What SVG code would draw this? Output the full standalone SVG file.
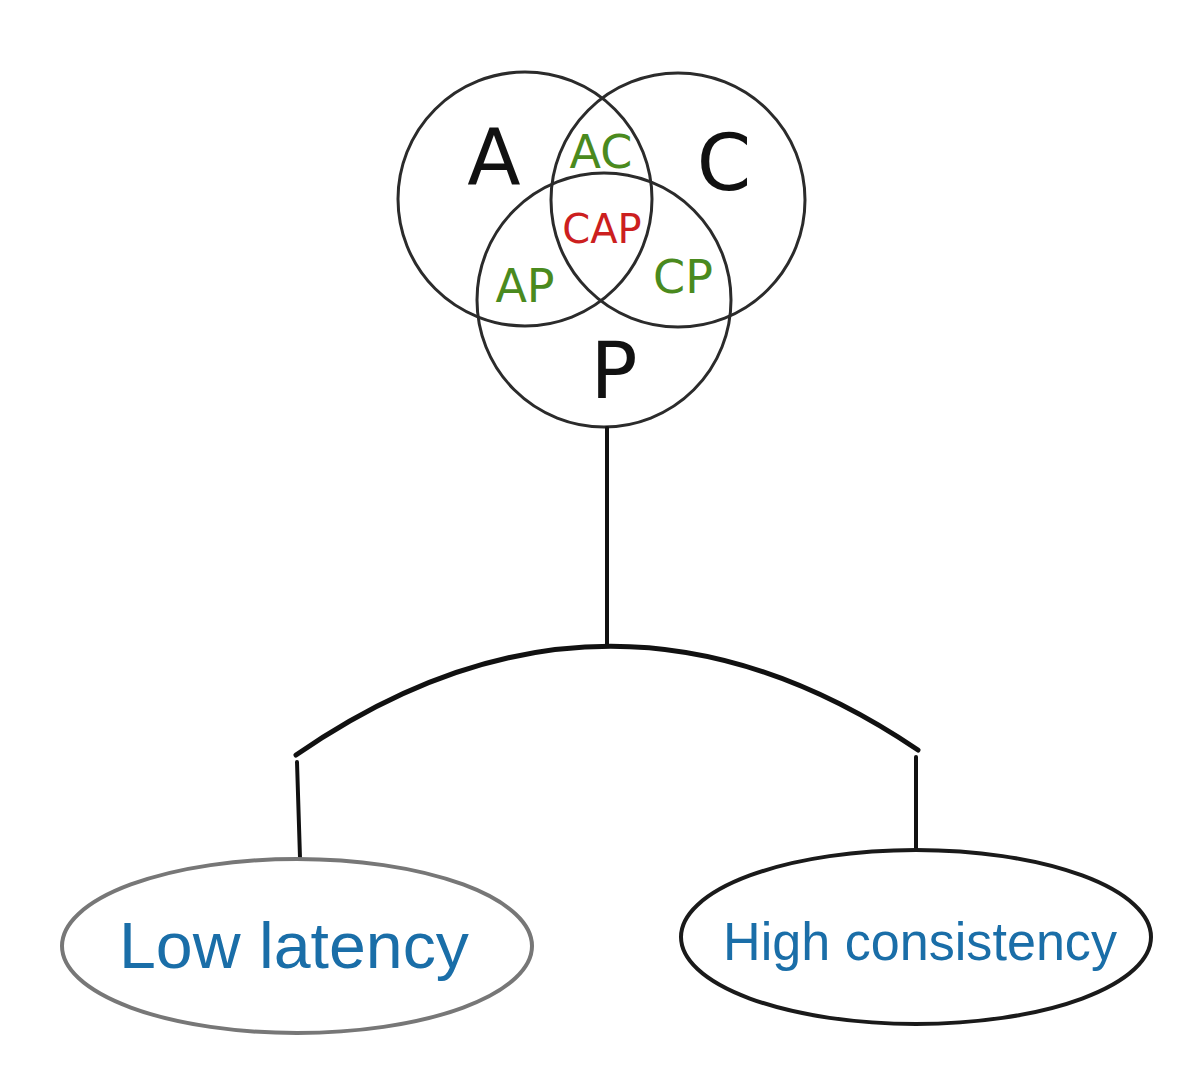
<svg xmlns="http://www.w3.org/2000/svg" width="1200" height="1077" viewBox="0 0 1200 1077">
<style>
.c{fill:none;stroke:#2b2b2b;stroke-width:3}
.big{font-family:"DejaVu Sans",sans-serif;font-size:78px;fill:#111;text-anchor:middle}
.g{font-family:"DejaVu Sans",sans-serif;font-size:46px;fill:#4a8a1e;text-anchor:middle}
.r{font-family:"DejaVu Sans",sans-serif;font-size:40px;fill:#cc1f1f;text-anchor:middle}
.b{font-family:"Liberation Sans",sans-serif;font-size:58px;fill:#1a6ea8;text-anchor:middle}
.l{fill:none;stroke:#111;stroke-width:4;stroke-linecap:round}
</style>
<rect width="1200" height="1077" fill="#fff"/>
<g id="venn">
<circle class="c" cx="525" cy="199" r="127"/>
<circle class="c" cx="678" cy="200" r="127"/>
<circle class="c" cx="604" cy="300" r="127"/>
<text class="big" x="494" y="185">A</text>
<text class="big" x="724" y="190">C</text>
<text class="big" x="614" y="398">P</text>
<text class="g" x="601" y="168">AC</text>
<text class="r" x="602" y="243">CAP</text>
<text class="g" x="525" y="302">AP</text>
<text class="g" x="683" y="293">CP</text>
</g>
<g id="connectors">
<path class="l" d="M607 428 L607 645"/>
<path class="l" d="M296 755 Q607 540 918 750" style="stroke-width:5"/>
<path class="l" d="M297 762 L300 858"/>
<path class="l" d="M916 757 L916 850"/>
</g>
<g id="low">
<ellipse cx="297" cy="946" rx="235" ry="87" fill="none" stroke="#777" stroke-width="4"/>
<text class="b" x="294" y="968" style="font-size:64px" textLength="350" lengthAdjust="spacingAndGlyphs">Low latency</text>
</g>
<g id="high">
<ellipse cx="916" cy="937" rx="235" ry="87" fill="none" stroke="#1a1a1a" stroke-width="4"/>
<text class="b" x="920" y="960" style="font-size:54px" textLength="394" lengthAdjust="spacingAndGlyphs">High consistency</text>
</g>
</svg>
